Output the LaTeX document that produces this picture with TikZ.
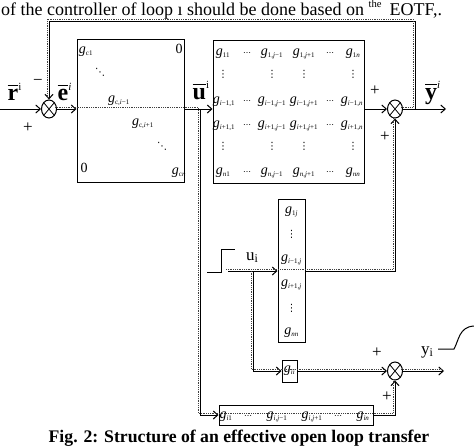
\documentclass[tikz,border=0pt]{standalone}
\usepackage{fontspec}
\setmainfont{Liberation Serif}
\newfontfamily\dotsf{DejaVu Sans}
\usetikzlibrary{arrows.meta,shapes.geometric}

% bar over a bold signal letter
\newcommand{\ovl}[1]{\vbox{\hrule height 1.3pt\kern 2.5pt\hbox{#1}}}
% one transfer function entry
\newcommand{\gent}[1]{\textit{g}\textsubscript{\fontsize{7}{7}\selectfont #1}}
\newcommand{\iv}{\textit{i}}
\newcommand{\jv}{\textit{j}}
\newcommand{\nv}{\textit{n}}
\newcommand{\hdts}{{\dotsf\fontsize{8}{8}\selectfont ⋯}}
\newcommand{\vdts}{{\dotsf\fontsize{10}{10}\selectfont ⋮}}
\newcommand{\ddts}{{\dotsf\fontsize{10}{10}\selectfont ⋱}}

\tikzset{
  wire/.style={line width=1pt},
  sig/.style={wire, -{Straight Barb[length=4.5pt,width=8pt]}},
  trace/.style={line width=0.8pt, densely dotted, black!75},
  blk/.style={draw, line width=1pt, inner sep=0pt},
  ent/.style={inner sep=0pt, font=\fontsize{14}{14}\selectfont},
  sumj/.style={ellipse, draw, line width=1pt, minimum width=15pt, minimum height=18pt, inner sep=0pt,
    path picture={\draw[line width=0.8pt] (path picture bounding box.north west) -- (path picture bounding box.south east)
      (path picture bounding box.north east) -- (path picture bounding box.south west);}},
  sgn/.style={inner sep=0pt, font=\fontsize{17}{17}\selectfont},
  lab/.style={inner sep=0pt, anchor=base west},
}

\begin{document}
\begin{tikzpicture}[x=1pt,y=-1pt]
  \useasboundingbox (0,0) rectangle (474,447);

  % text line cut off above the figure
  \node[lab, font=\fontsize{18}{18}\selectfont] (toptxt) at (1,15.5)
    {of the controller of loop ı should be done based on \raisebox{8.5pt}{\fontsize{10.6}{11}\selectfont the}\hspace{8pt}EOTF,.};

  % blocks
  \node[blk, minimum width=107pt, minimum height=143pt] (ctrl) at (130.5,110.5) {};
  \node[blk, minimum width=151pt, minimum height=143pt] (plant) at (288.5,111.5) {};
  \node[blk, minimum width=27pt, minimum height=143pt] (col) at (291.5,270.5) {};
  \node[blk, ent, minimum width=15pt, minimum height=22pt] (gii) at (289.5,371) {\gent{\iv\iv}};
  \node[blk, minimum width=154pt, minimum height=20pt] (row) at (296,415) {};

  % summing junctions
  \node[sumj] (s1) at (49,109) {};
  \node[sumj] (s2) at (395,109) {};
  \node[sumj] (s3) at (395,371) {};

  % bends and free ends
  \coordinate (rin) at (0,109);
  \coordinate (ubr) at (200,109);
  \coordinate (ubot) at (200,415);
  \coordinate (fbr) at (415,109);
  \coordinate (fbtop) at (415,21);
  \coordinate (yout) at (446,109);
  \coordinate (uin) at (228,271);
  \coordinate (ibr) at (253,271);
  \coordinate (ibot) at (253,371);
  \coordinate (cr) at (395,271);
  \coordinate (rr) at (395,415);
  \coordinate (yiout) at (444,371);

  % signal lines
  \draw[sig] (rin) -- (s1.west);
  \draw[sig] (s1.east) -- (s1 -| ctrl.west);
  \draw[sig] (s1 -| ctrl.east) -- (s1 -| plant.west);
  \draw[sig] (ubr) -- (ubot) -- (row.west);
  \draw[sig] (s2 -| plant.east) -- (s2.west);
  \draw[sig] (s2.east) -- (yout);
  \draw[sig] (fbr) -- (fbtop) -| (s1.north);
  \draw[sig] (uin) -- (uin -| col.west);
  \draw[sig] (ibr) -- (ibot) -- (gii.west);
  \draw[sig] (cr -| col.east) -- (cr) -- (s2.south);
  \draw[sig] (gii.east) -- (s3.west);
  \draw[sig] (row.east) -- (rr) -- (s3.south);
  \draw[sig] (s3.east) -- (yiout);

  % dotted trace of the effective loop
  \begin{scope}[trace, transform canvas={shift={(-2pt,2pt)}}]
    \draw (s1.east) -- (ubr) -- (ubot) -- (rr) -- (s3.south);
    \draw (uin) -- (cr) -- (s2.south);
    \draw (ibr) -- (ibot) -- (s3.west);
    \draw (s3.east) -- (yiout);
    \draw (s2.east) -- (fbr) -- (fbtop) -| (s1.north);
  \end{scope}

  % step input and step response
  \draw[wire] (207,272) -- (221,272) -- (221,249) -- (235,249);
  \draw[wire] (438,349) -- (454,349) .. controls (459,340) and (459,327) .. (474,326);

  % signal labels
  \node[lab] (rlab) at (7.5,100) {{\fontsize{24}{24}\selectfont\bfseries\ovl{r}}\raisebox{10pt}{\fontsize{11}{11}\selectfont i}};
  \node[lab] (elab) at (57.5,100) {{\fontsize{24}{24}\selectfont\bfseries\ovl{e}}\raisebox{10pt}{\fontsize{11}{11}\selectfont\itshape i}};
  \node[lab] (ulab) at (192.5,99) {{\fontsize{24}{24}\selectfont\bfseries\ovl{u}}\raisebox{11pt}{\fontsize{11}{11}\selectfont i}};
  \node[lab] (ylab) at (425,99) {{\fontsize{24}{24}\selectfont\bfseries\ovl{y}}\raisebox{11pt}{\fontsize{11}{11}\selectfont\itshape i}};
  \node[lab, font=\fontsize{17}{17}\selectfont] (uilab) at (246,260) {u\textsubscript{i}};
  \node[lab, font=\fontsize{17}{17}\selectfont] (yilab) at (421,354) {y\textsubscript{i}};

  % signs at the junctions
  \node[sgn] (m1) at (38,82) {−};
  \node[sgn] (p1) at (28,128) {+};
  \node[sgn] (p2) at (375,91) {+};
  \node[sgn] (p3) at (385,137) {+};
  \node[sgn] (p4) at (377,353) {+};
  \node[sgn] (p5) at (387,397) {+};

  % diagonal controller
  \node[ent] (c11) at (86,52) {\gent{c1}};
  \node[ent] (cz1) at (179,49) {0};
  \node[ent] (cd1) at (100,72) {\ddts};
  \node[ent] (cim) at (119,101) {\gent{c,\iv−1}};
  \node[ent] (cip) at (143,124) {\gent{c,\iv+1}};
  \node[ent] (cd2) at (162,146) {\ddts};
  \node[ent] (cz2) at (84,168) {0};
  \node[ent] (cnn) at (179,173) {\gent{c\nv}};

  % process matrix
  \node[ent] at (223,54) {\gent{11}};
  \node[ent] at (247,54) {\hdts};
  \node[ent] at (272,54) {\gent{1,\jv−1}};
  \node[ent] at (304,54) {\gent{1,\jv+1}};
  \node[ent] at (330,54) {\hdts};
  \node[ent] at (353,54) {\gent{1\nv}};
  \node[ent] at (224,102) {\gent{\iv−1,1}};
  \node[ent] at (247,102) {\hdts};
  \node[ent] at (272,102) {\gent{\iv−1,\jv−1}};
  \node[ent] at (304,102) {\gent{\iv−1,\jv+1}};
  \node[ent] at (330,102) {\hdts};
  \node[ent] at (352,102) {\gent{\iv−1,\nv}};
  \node[ent] at (224,126) {\gent{\iv+1,1}};
  \node[ent] at (247,126) {\hdts};
  \node[ent] at (272,126) {\gent{\iv+1,\jv−1}};
  \node[ent] at (304,126) {\gent{\iv+1,\jv+1}};
  \node[ent] at (330,126) {\hdts};
  \node[ent] at (352,126) {\gent{\iv+1,\nv}};
  \node[ent] at (223,173) {\gent{\nv1}};
  \node[ent] at (247,173) {\hdts};
  \node[ent] at (272,173) {\gent{\nv,\jv−1}};
  \node[ent] at (304,173) {\gent{\nv,\jv+1}};
  \node[ent] at (330,173) {\hdts};
  \node[ent] at (353,173) {\gent{\nv\nv}};
  \foreach \x in {223,272,304,353} {
    \node[ent] at (\x,74) {\vdts};
    \node[ent] at (\x,146) {\vdts};
  }

  % column of the process matrix
  \node[ent] (k1) at (291.5,212) {\gent{1\jv}};
  \node[ent] (k2) at (291.5,234) {\vdts};
  \node[ent] (k3) at (291.5,260) {\gent{\iv−1,\jv}};
  \node[ent] (k4) at (291.5,285) {\gent{\iv+1,\jv}};
  \node[ent] (k5) at (291.5,308) {\vdts};
  \node[ent] (k6) at (291.5,333) {\gent{\nv\nv}};

  % row of the process matrix
  \node[ent] (r1) at (226,417) {\gent{\iv1}};
  \node[ent] (r2) at (248,417) {\hdts};
  \node[ent] (r3) at (277,417) {\gent{\iv,\jv−1}};
  \node[ent] (r4) at (312,417) {\gent{\iv,\jv+1}};
  \node[ent] (r5) at (338,417) {\hdts};
  \node[ent] (r6) at (363,417) {\gent{\iv\nv}};

  \node[anchor=base, inner sep=0pt, font=\fontsize{17.7}{18}\selectfont\bfseries] (cap) at (239,442.5)
    {Fig. 2: Structure of an effective open loop transfer};
\end{tikzpicture}
\end{document}
